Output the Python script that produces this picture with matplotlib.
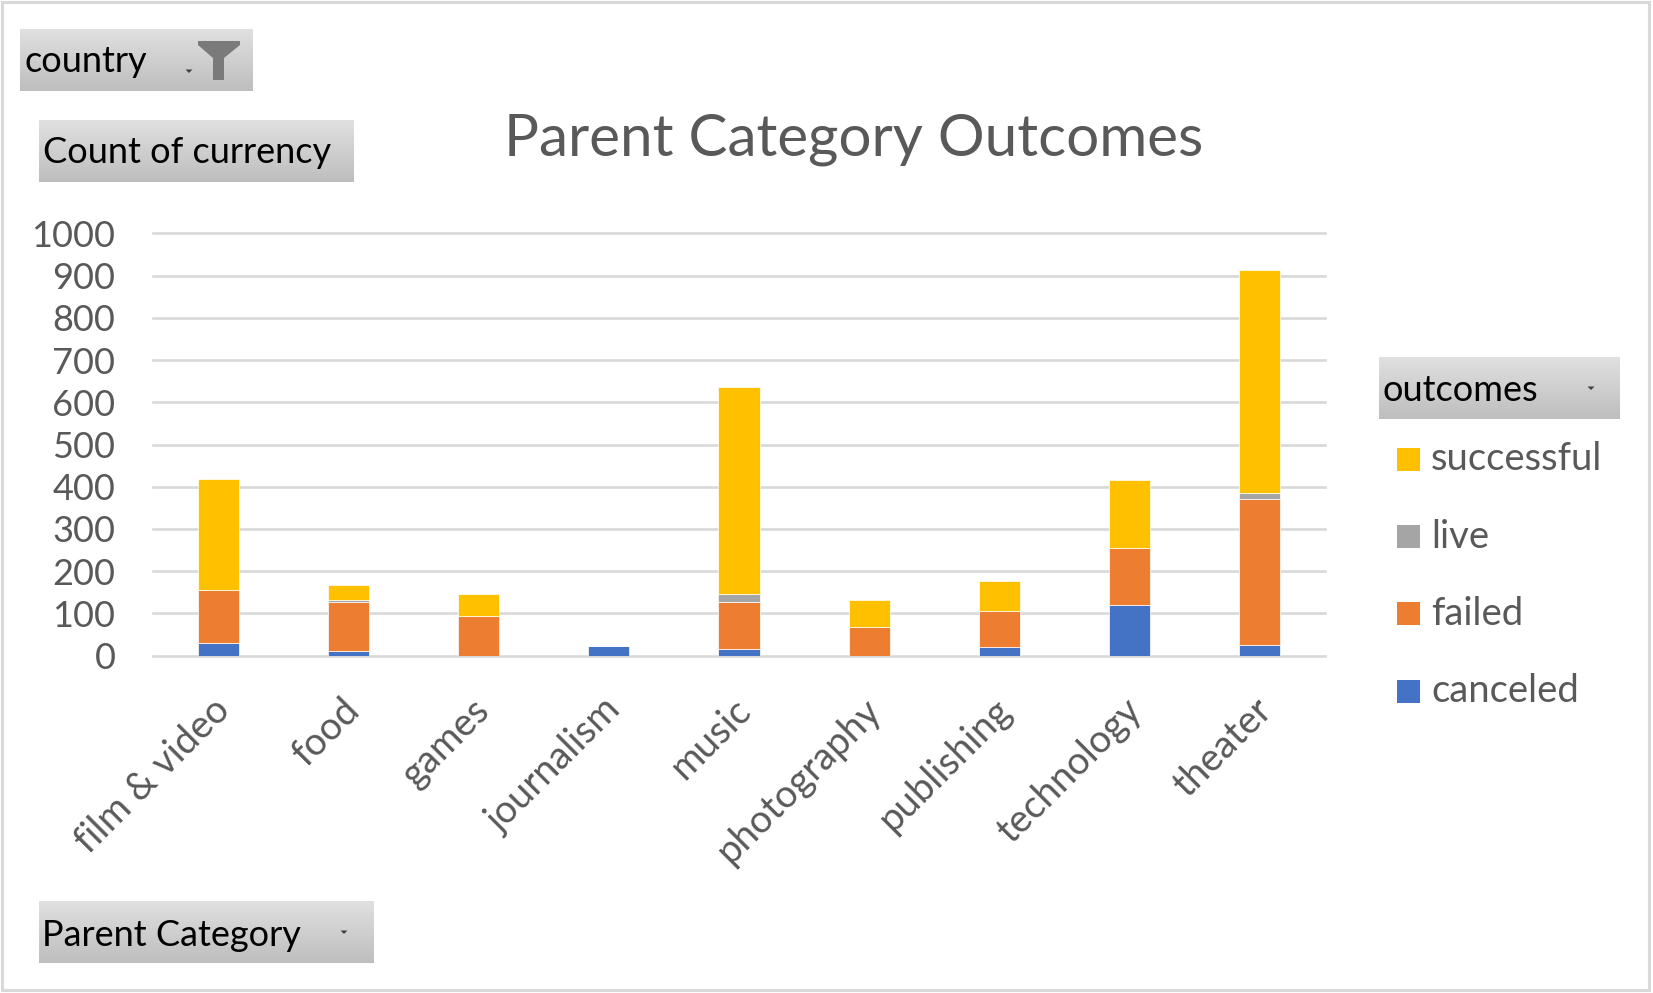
import matplotlib
matplotlib.use("Agg")
import matplotlib.pyplot as plt
import matplotlib.transforms as mtransforms
import numpy as np
from matplotlib.patches import Rectangle, Polygon

# ---------------- data ----------------
categories = ["film & video", "food", "games", "journalism", "music",
              "photography", "publishing", "technology", "theater"]
canceled   = [29, 12, 0, 23, 17, 0, 20, 119, 25]
failed     = [127, 115, 93, 0, 109, 69, 86, 137, 347]
live       = [0, 4, 0, 0, 19, 0, 0, 0, 14]
successful = [263, 36, 53, 0, 491, 62, 70, 159, 526]
series_names = ["canceled", "failed", "live", "successful"]
y_ticks = [0, 100, 200, 300, 400, 500, 600, 700, 800, 900, 1000]
title_text = "Parent Category Outcomes"

colors = {"canceled": "#4472C4", "failed": "#ED7D31",
          "live": "#A5A5A5", "successful": "#FFC000"}

W, H = 1653, 993
FONT = "Lato"
plt.rcParams["font.family"] = [FONT, "DejaVu Sans"]

fig = plt.figure(figsize=(W / 100, H / 100), dpi=100)
fig.patch.set_facecolor("white")


def fx(x):
    return x / W


def fy(y):
    return 1 - y / H


# ---------------- main axes ----------------
ax_l, ax_r, ax_t, ax_b = 153, 1325, 233.3, 655.7
ax = fig.add_axes([fx(ax_l), fy(ax_b), (ax_r - ax_l) / W, (ax_b - ax_t) / H])
ax.set_facecolor("none")

x = np.arange(len(categories))
values = {"canceled": canceled, "failed": failed, "live": live, "successful": successful}
bottom = np.zeros(len(categories))
for name in series_names:
    v = np.array(values[name], dtype=float)
    ax.bar(x, v, 0.315, bottom=bottom, color=colors[name],
           edgecolor="white", linewidth=0.5, zorder=3)
    bottom += v

ax.set_xlim(-0.5, len(categories) - 0.5)
ax.set_ylim(0, 1000)
ax.set_yticks(y_ticks)
ax.set_yticklabels([str(t) for t in y_ticks], fontsize=26, color="#595959")
ax.set_xticks(x)
ax.set_xticklabels(categories, fontsize=27.5, color="#595959",
                   rotation=45, ha="right", va="top", rotation_mode="anchor")
ax.tick_params(axis="y", length=0, pad=27)
ax.tick_params(axis="x", length=0, pad=26)
shift = mtransforms.ScaledTranslation(-7 / 100, 0, fig.dpi_scale_trans)
for lab in ax.get_xticklabels():
    lab.set_transform(lab.get_transform() + shift)
for s in ax.spines.values():
    s.set_visible(False)
ax.yaxis.grid(True, color="#d9d9d9", linewidth=1.9)
ax.set_axisbelow(True)
for gl in ax.get_ygridlines():
    gl.set_clip_on(False)

# ---------------- title ----------------
fig.text(fx(854), fy(156), title_text, ha="center", va="baseline",
         fontsize=42, color="#595959")

# ---------------- field buttons ----------------
grad = np.linspace(0, 1, 64).reshape(-1, 1)


def button(x0, y0, x1, y1, label, tx, ty, arrow=None):
    bax = fig.add_axes([fx(x0), fy(y1), (x1 - x0) / W, (y1 - y0) / H])
    top = np.array([0.878, 0.878, 0.878])
    bot = np.array([0.745, 0.745, 0.745])
    img = top[None, None, :] * (1 - grad[:, :, None]) + bot[None, None, :] * grad[:, :, None]
    bax.imshow(img, aspect="auto", extent=[0, 1, 0, 1], origin="upper")
    bax.set_axis_off()
    fig.text(fx(tx), fy(ty), label, ha="left", va="baseline",
             fontsize=26, color="black")
    if arrow is not None:
        ax_, ay_ = arrow
        fig.patches.append(Polygon([(fx(ax_ - 3.5), fy(ay_ - 1.5)),
                                    (fx(ax_ + 3.5), fy(ay_ - 1.5)),
                                    (fx(ax_), fy(ay_ + 2))],
                                   closed=True, transform=fig.transFigure,
                                   facecolor="#404040", edgecolor="none"))


button(20, 29, 253, 91, "country", 24, 72, arrow=(189, 71))
# funnel icon
funnel = [(198, 41), (240, 41), (240, 45), (224, 58), (224, 80),
          (213, 80), (213, 58), (198, 45)]
fig.patches.append(Polygon([(fx(a), fy(b)) for a, b in funnel], closed=True,
                           transform=fig.transFigure, facecolor="#7a7a7a",
                           edgecolor="none"))
button(39, 120, 354, 182, "Count of currency", 43, 163)
button(39, 901, 374, 963, "Parent Category", 42, 946, arrow=(344, 932))
button(1379, 357, 1620, 419, "outcomes", 1383, 401, arrow=(1591, 388))

# ---------------- legend ----------------
leg_order = series_names[::-1]
sq_top0 = 447.7
step = 77.3
for i, name in enumerate(leg_order):
    t = sq_top0 + i * step
    fig.patches.append(Rectangle((fx(1397), fy(t + 23)), 23 / W, 23 / H,
                                 transform=fig.transFigure,
                                 facecolor=colors[name], edgecolor="none"))
    fig.text(fx(1431), fy(t + 22.5), name, ha="left", va="baseline",
             fontsize=27.5, color="#595959")

# ---------------- chart border ----------------
fig.patches.append(Rectangle((fx(1.5), fy(990)), (1649 - 1.5) / W, (990 - 1.5) / H,
                             transform=fig.transFigure, facecolor="none",
                             edgecolor="#d9d9d9", linewidth=2.2))

fig.savefig("out.png", dpi=100, facecolor="white")
